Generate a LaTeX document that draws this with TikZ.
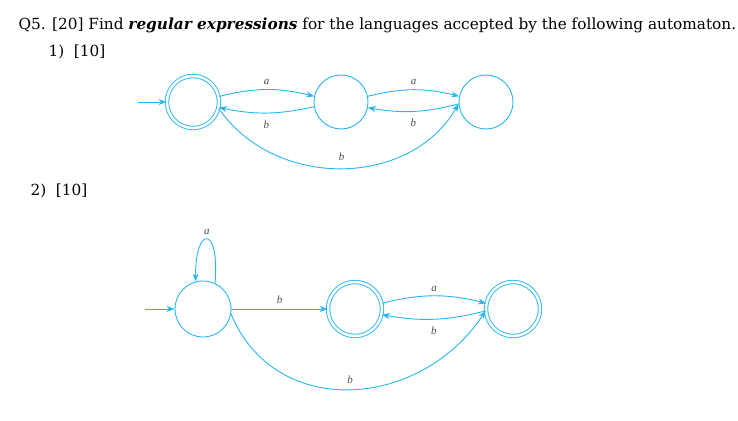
\documentclass[tikz,border=0pt]{standalone}
\usepackage{fontspec}
\setmainfont{DejaVu Serif}
\newfontfamily\labfont{Liberation Serif}
\usetikzlibrary{arrows.meta}
\definecolor{auto}{RGB}{40,182,240}
\begin{document}
\begin{tikzpicture}[x=1pt,y=-1pt,
  st/.style={circle,draw=auto,line width=0.9pt,minimum size=54pt,inner sep=0pt},
  acc/.style={st,double=white,double distance=2.5pt,minimum size=54pt},
  edge/.style={draw=auto,line width=0.9pt,-{Stealth[length=8pt,width=6pt]}},
  lab/.style={font=\labfont\fontsize{11}{11}\selectfont\itshape,text=black!70}]
\useasboundingbox (0,0) rectangle (738,420);
\node[anchor=west,font=\fontsize{15.3}{19}\selectfont] (title) at (15,25) {Q5. [20] Find \textbf{\textit{regular expressions}} for the languages accepted by the following automaton.};
\node[anchor=west,font=\fontsize{15.3}{19}\selectfont] (p1) at (45,52) {1)\ \ [10]};
\node[anchor=west,font=\fontsize{15.3}{19}\selectfont] (p2) at (27,191) {2)\ \ [10]};
% automaton 1
\node[acc,minimum size=52pt] (a0) at (193,102) {};
\node[st] (a1) at (341,102) {};
\node[st] (a2) at (486,102) {};
\coordinate (a0in) at (138,102);
\draw[edge] (a0in) -- (a0);
\draw[edge] (a0.12) to[bend left=14] node[lab,above=1pt] {a} (a1.168);
\draw[edge] (a1.-170) to[bend left=12] node[lab,below=4pt] {b} (a0.-12);
\draw[edge] (a1.12) to[bend left=14] node[lab,above=1pt] {a} (a2.168);
\draw[edge] (a2.-176) to[bend left=12] node[lab,below=4pt] {b} (a1.-12);
\draw[edge] (a0.-14) .. controls (275,190) and (410,188) .. node[lab,pos=0.5,above=4pt] {b} (a2.-176);
% automaton 2
\node[st,minimum size=56pt] (b0) at (203,309) {};
\node[acc] (b1) at (355,309) {};
\node[acc] (b2) at (513,309) {};
\coordinate (b0in) at (145,309);
\draw[edge] (b0in) -- (b0);
\draw[edge] (b0.65) .. controls (220,225) and (195,225) .. node[lab,above=1pt] {a} (b0.105);
\draw[edge] (b0) -- node[lab,above=2pt] {b} (b1);
\draw[edge] (b1.12) to[bend left=14] node[lab,above=1pt] {a} (b2.168);
\draw[edge] (b2.-176) to[bend left=12] node[lab,below=4pt] {b} (b1.-12);
\draw[edge] (b0.-10) .. controls (275,420) and (420,410) .. node[lab,pos=0.5,above=2pt] {b} (b2.-176);
\end{tikzpicture}
\end{document}
